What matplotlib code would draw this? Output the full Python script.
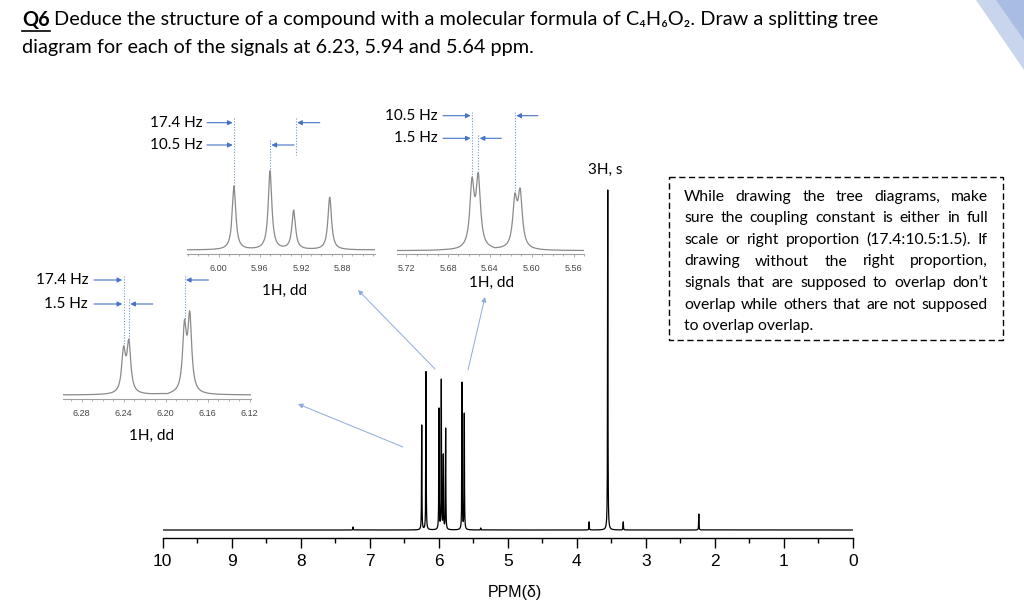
import numpy as np
import matplotlib
matplotlib.use('Agg')
import matplotlib.pyplot as plt
from matplotlib.patches import Rectangle, Polygon
from matplotlib.ticker import MultipleLocator
from matplotlib.transforms import blended_transform_factory

W, H = 1024, 615

# ---- values ----
# full 1H spectrum: peak positions (ppm) and heights (% of the 3H singlet)
main_ppm = [7.24, 6.246, 6.184, 5.996, 5.962, 5.933, 5.899, 5.662, 5.629, 5.39, 3.82, 3.55, 3.325, 2.23]
main_height = [0.9, 30.9, 46.6, 35.9, 44.4, 22.4, 30.0, 43.5, 34.4, 0.6, 2.4, 100.0, 2.4, 4.7]
main_ticks = [10, 9, 8, 7, 6, 5, 4, 3, 2, 1, 0]

# expansion of the 6.23 ppm signal
sig623_ppm = [6.240, 6.235, 6.198, 6.182, 6.177]
sig623_height = [49, 55.7, 1.5, 75.7, 84]
sig623_ticks = [6.28, 6.24, 6.20, 6.16, 6.12]

# expansion of the 5.94 ppm signal
sig594_ppm = [5.985, 5.950, 5.927, 5.892]
sig594_height = [64, 79.3, 40, 52.7]
sig594_ticks = [6.00, 5.96, 5.92, 5.88]

# expansion of the 5.64 ppm signal
sig564_ppm = [5.680, 5.657, 5.651, 5.635, 5.616, 5.611]
sig564_height = [1.5, 73.4, 78, 3, 57.4, 62.4]
sig564_ticks = [5.72, 5.68, 5.64, 5.60, 5.56]

note_lines = [
    "While drawing the tree diagrams, make",
    "sure the coupling constant is either in full",
    "scale or right proportion (17.4:10.5:1.5). If",
    "drawing without the right proportion,",
    "signals that are supposed to overlap don\u2019t",
    "overlap while others that are not supposed",
    "to overlap overlap.",
]

BLUE = '#4472c4'
DOT_BLUE = '#7196d6'
PALE_BLUE = '#8eaadb'
SANS = ['Lato', 'DejaVu Sans']
LABEL_FS = 11


def spectrum(x, centres, heights, hw):
    """Sum of Lorentzians whose maxima land on the read heights."""
    c = np.asarray(centres, float)
    h = np.asarray(heights, float)
    shape = lambda d: 1.0 / (1.0 + (d / hw) ** 2)
    amp = np.linalg.solve(shape(c[:, None] - c[None, :]), h)
    return (amp[None, :] * shape(x[:, None] - c[None, :])).sum(axis=1)


def grid(lo, hi, centres, n=6000):
    return np.union1d(np.linspace(lo, hi, n), centres)


fig = plt.figure(figsize=(W / 100, H / 100), dpi=100)
fig.patch.set_facecolor('white')


def px_axes(x0, y0, x1, y1, **kw):
    # box given in picture pixels, origin top-left
    return fig.add_axes([x0 / W, 1 - y1 / H, (x1 - x0) / W, (y1 - y0) / H], **kw)


# overlay in pixel units for text and arrows
ov = fig.add_axes([0, 0, 1, 1], zorder=10)
ov.set_xlim(0, W)
ov.set_ylim(H, 0)
ov.set_autoscale_on(False)
ov.axis('off')

# ---- full spectrum ----
ax = px_axes(162.7, 180, 852.7, 538.3)
xm = grid(0, 10, main_ppm, 30000)
ax.plot(xm, spectrum(xm, main_ppm, main_height, 0.003), color='black', lw=0.9)
ax.set_xlim(10, 0)
ax.set_ylim(-8.3 / 3.4, 350 / 3.4)
for s in ['left', 'right', 'top']:
    ax.spines[s].set_visible(False)
ax.spines['bottom'].set_linewidth(1.0)
ax.patch.set_visible(False)
ax.set_yticks([])
ax.set_xticks(main_ticks)
ax.xaxis.set_minor_locator(MultipleLocator(0.5))
ax.tick_params(axis='x', which='major', length=7, width=1, pad=4, labelsize=12.5)
ax.tick_params(axis='x', which='minor', length=3.5, width=1)
for lab in ax.get_xticklabels():
    lab.set_family('Liberation Sans')
ov.text(515, 592, 'PPM(\u03b4)', ha='center', va='center', fontsize=11.5,
        family=['Liberation Sans', 'DejaVu Sans'])


def expansion(box, offset, xlim, ppm, heights, ticks, hw):
    a = px_axes(*box)
    xs = grid(min(xlim), max(xlim), ppm)
    a.plot(xs, spectrum(xs, ppm, heights, hw), color='#8a8a8a', lw=0.9)
    a.set_xlim(*xlim)
    a.set_ylim(-offset, box[3] - box[1] - offset)
    for s in ['left', 'right', 'top']:
        a.spines[s].set_visible(False)
    a.spines['bottom'].set_color('#a0a0a0')
    a.spines['bottom'].set_linewidth(0.8)
    a.patch.set_visible(False)
    a.set_yticks([])
    a.set_xticks(ticks)
    a.set_xticklabels([f'{t:.2f}' for t in ticks])
    a.xaxis.set_minor_locator(MultipleLocator(0.01))
    a.tick_params(axis='x', which='both', colors='#a0a0a0', labelcolor='#444444',
                  labelsize=6.5, length=2.5, width=0.6, pad=4.5)
    a.tick_params(axis='x', which='minor', length=1.5)
    for lab in a.get_xticklabels():
        lab.set_family('Liberation Sans')
    return a


ax623 = expansion((62.7, 300, 250.7, 399.3), 4.3, (6.298, 6.119),
                  sig623_ppm, sig623_height, sig623_ticks, 0.0022)
ax594 = expansion((186.7, 160, 375, 254), 4.0, (6.031, 5.848),
                  sig594_ppm, sig594_height, sig594_ticks, 0.0021)
ax564 = expansion((396.7, 160, 584, 254), 3.3, (5.729, 5.550),
                  sig564_ppm, sig564_height, sig564_ticks, 0.0025)


def dotted(a, ppm, y0, y1):
    tr = blended_transform_factory(a.transData, ov.transData)
    ov.plot([ppm, ppm], [y0, y1], transform=tr, ls=(0, (1, 1.5)), color=DOT_BLUE, lw=0.8)


def arrow_in(a, ppm, y, tail_px):
    tr = blended_transform_factory(a.transData, ov.transData)
    ov.annotate('', xy=(ppm, y), xycoords=tr, xytext=(tail_px, y), textcoords=ov.transData,
                arrowprops=dict(arrowstyle='-|>', color=BLUE, lw=0.8, mutation_scale=7,
                                shrinkA=0, shrinkB=1))


def arrow_from_right(a, ppm, y, length=24):
    tr = blended_transform_factory(a.transData, ov.transData)
    ov.annotate('', xy=(ppm, y), xycoords=tr, xytext=(length, 0), textcoords='offset pixels',
                arrowprops=dict(arrowstyle='-|>', color=BLUE, lw=0.8, mutation_scale=7,
                                shrinkA=0, shrinkB=1))


def hz(text, x_right, y):
    ov.text(x_right, y, text, ha='right', va='center', fontsize=LABEL_FS, family=SANS)


# 6.23 ppm signal
dotted(ax623, 6.240, 276, 346)
dotted(ax623, 6.235, 299, 339)
dotted(ax623, 6.182, 276, 319)
hz('17.4 Hz', 89, 280)
arrow_in(ax623, 6.240, 280, 94)
arrow_from_right(ax623, 6.182, 280)
hz('1.5 Hz', 88, 304)
arrow_in(ax623, 6.240, 304, 94)
arrow_from_right(ax623, 6.235, 304)
ov.text(152, 436, '1H, dd', ha='center', va='center', fontsize=LABEL_FS, family=SANS)

# 5.94 ppm signal
dotted(ax594, 5.985, 118, 186)
dotted(ax594, 5.950, 140, 171)
dotted(ax594, 5.925, 118, 155)
hz('17.4 Hz', 203, 122.7)
arrow_in(ax594, 5.985, 122.7, 207)
arrow_from_right(ax594, 5.925, 122.7)
hz('10.5 Hz', 203, 145)
arrow_in(ax594, 5.985, 145, 207)
arrow_from_right(ax594, 5.950, 145)
ov.text(285, 291, '1H, dd', ha='center', va='center', fontsize=LABEL_FS, family=SANS)

# 5.64 ppm signal
dotted(ax564, 5.657, 112, 177)
dotted(ax564, 5.651, 135, 173)
dotted(ax564, 5.616, 112, 193)
hz('10.5 Hz', 438, 115.7)
arrow_in(ax564, 5.657, 115.7, 443)
arrow_from_right(ax564, 5.616, 115.7, 23)
hz('1.5 Hz', 438, 138.3)
arrow_in(ax564, 5.657, 138.3, 443)
arrow_from_right(ax564, 5.651, 138.3, 23)
ov.text(492, 283, '1H, dd', ha='center', va='center', fontsize=LABEL_FS, family=SANS)

ov.text(605, 170, '3H, s', ha='center', va='center', fontsize=LABEL_FS, family=SANS)

# pointers from the full spectrum to the expansions
for tail, head in [((435, 369), (358, 290)), ((468, 370), (485, 297)), ((403, 447), (298, 404))]:
    ov.annotate('', xy=head, xytext=tail,
                arrowprops=dict(arrowstyle='-|>', color=PALE_BLUE, lw=0.7, mutation_scale=7,
                                shrinkA=0, shrinkB=0))

# ---- title ----
renderer = fig.canvas.get_renderer()
q6 = ov.text(22, 20, 'Q6', ha='left', va='center', fontsize=14.3, fontweight='bold', family=SANS)
wq = q6.get_window_extent(renderer).width
ov.plot([22, 22 + wq], [31, 31], color='black', lw=1.2)
ov.text(22 + wq + 4, 20,
        'Deduce the structure of a compound with a molecular formula of C\u2084H\u2086O\u2082. '
        'Draw a splitting tree',
        ha='left', va='center', fontsize=14.3, family=SANS)
ov.text(22, 48, 'diagram for each of the signals at 6.23, 5.94 and 5.64 ppm.',
        ha='left', va='center', fontsize=14.3, family=SANS)

# slide corner decoration
ov.add_patch(Polygon([(976, 0), (1024, 0), (1024, 70)], closed=True, facecolor='#c9d5ec', lw=0))
ov.add_patch(Polygon([(996, 0), (1024, 0), (1024, 40)], closed=True, facecolor='#a9bde2', lw=0))

# ---- dashed note box with justified text ----
ov.add_patch(Rectangle((669.3, 177.3), 334, 162.7, fill=False, edgecolor='black',
                       lw=1.0, ls=(0, (4.5, 2.5))))
x0, x1, y0, dy = 684, 988, 196.7, 21.6
for i, line in enumerate(note_lines):
    y = y0 + i * dy
    if i == len(note_lines) - 1:
        ov.text(x0, y, line, ha='left', va='center', fontsize=11.3, family=SANS)
        continue
    words = line.split()
    arts = [ov.text(0, y, w, ha='left', va='center', fontsize=11.3, family=SANS) for w in words]
    widths = [t.get_window_extent(renderer).width for t in arts]
    gap = (x1 - x0 - sum(widths)) / (len(words) - 1)
    x = x0
    for t, w in zip(arts, widths):
        t.set_x(x)
        x += w + gap

fig.savefig('out.png', dpi=100)
